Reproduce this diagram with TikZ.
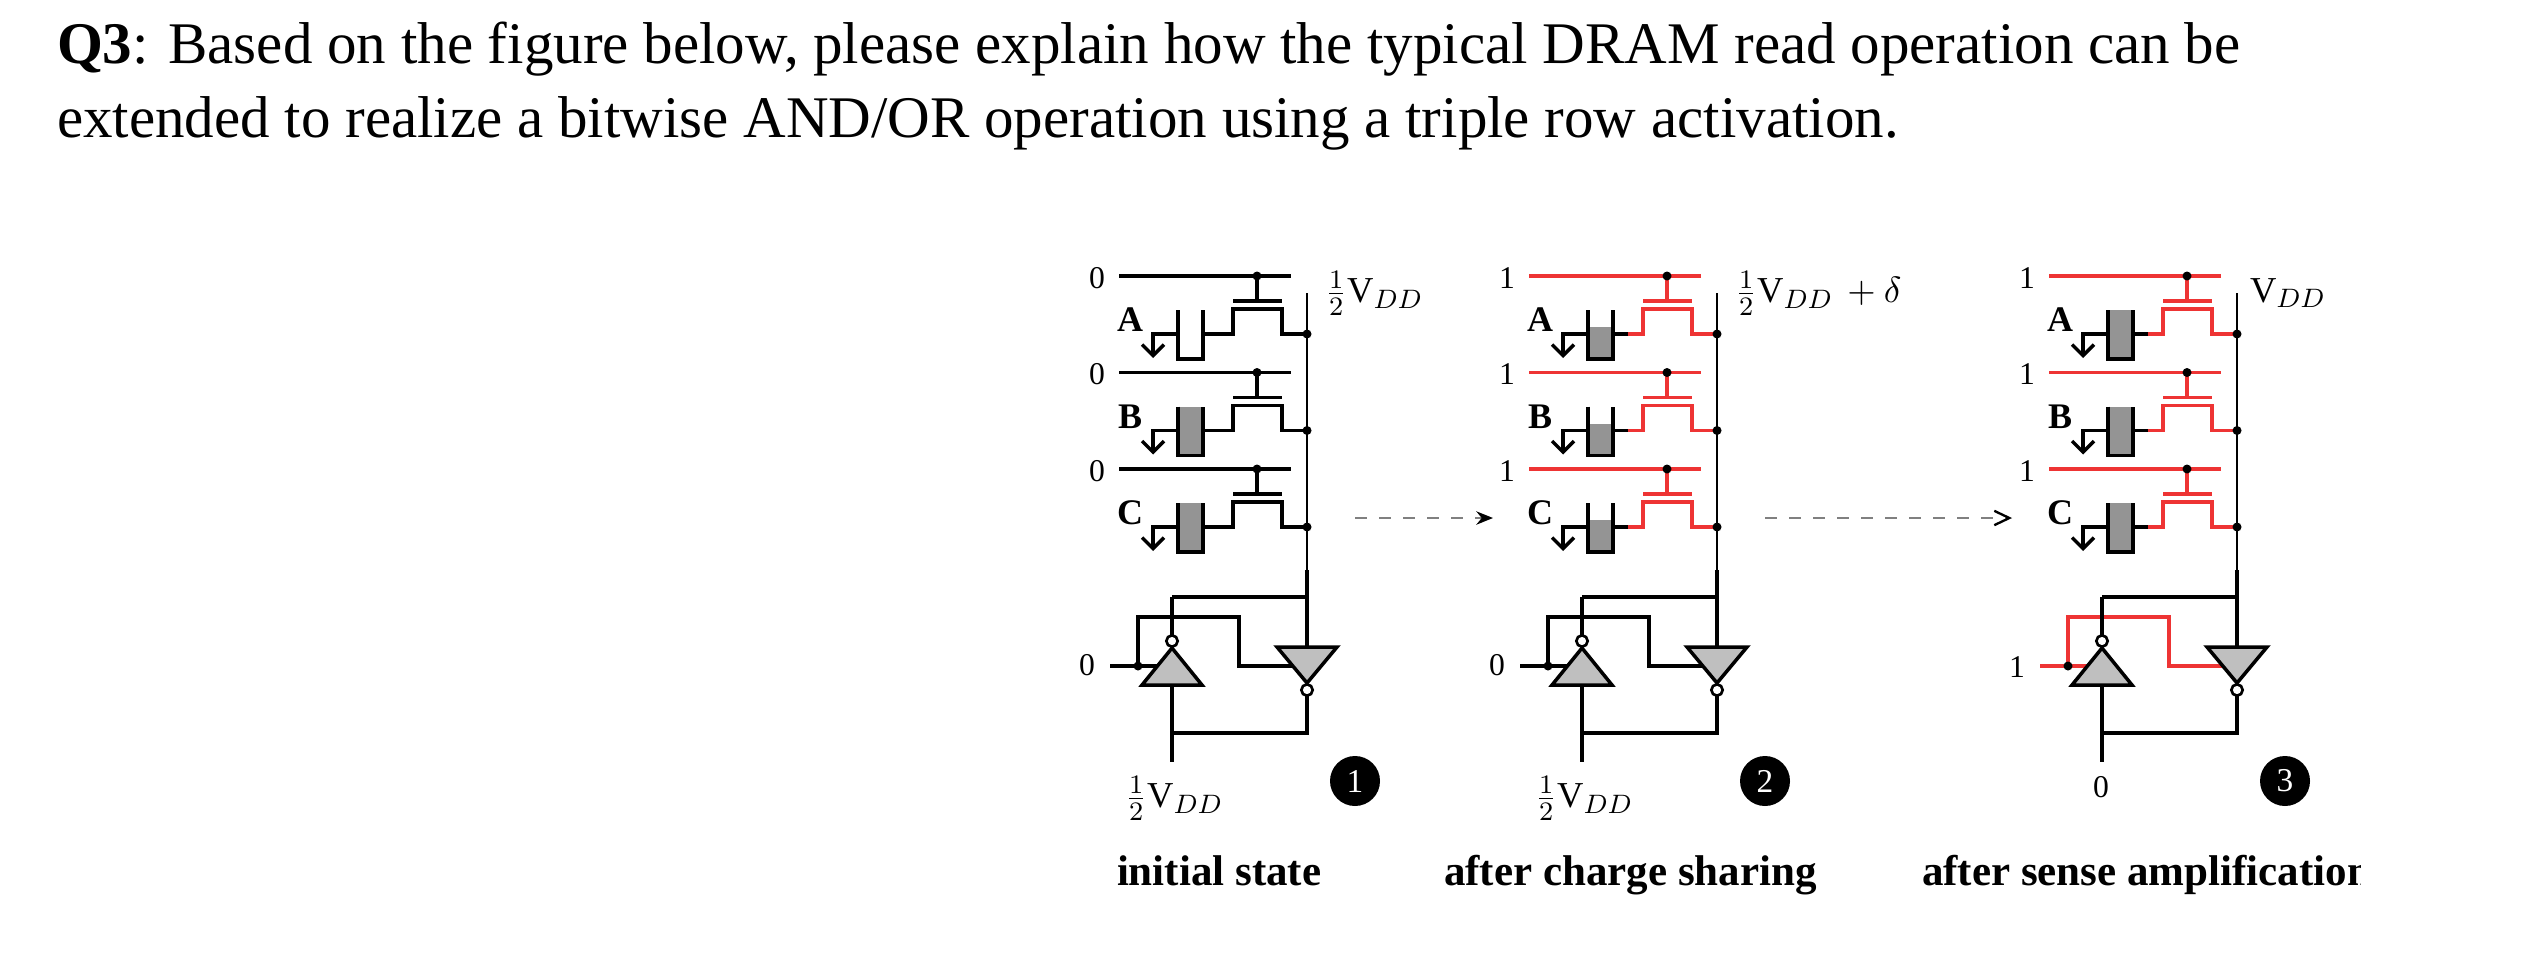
\documentclass[tikz,border=0pt]{standalone}
\usepackage{fontspec}
\setmainfont{Liberation Serif}
\usetikzlibrary{arrows.meta}
\definecolor{wirered}{RGB}{238,52,52}
\tikzset{
  wire/.style={line width=1.05pt,line cap=butt,line join=miter},
  thin wire/.style={line width=0.62pt},
  txt/.style={inner sep=0pt,outer sep=0pt},
  bit/.style={txt,font=\fontsize{9.5}{10}\selectfont},
  rowname/.style={txt,font=\fontsize{10.8}{12}\selectfont\bfseries},
  volt/.style={txt,anchor=west,font=\fontsize{10.95}{13}\selectfont},
  caption/.style={txt,anchor=base west,font=\fontsize{12.9}{15}\selectfont\bfseries},
  title/.style={txt,anchor=base west,font=\fontsize{17.7}{20}\selectfont},
  dot/.style={circle,fill=black,inner sep=0pt,minimum size=2.7pt},
  bubble/.style={circle,draw=black,fill=white,line width=0.8pt,inner sep=0pt,minimum size=3.4pt},
  badge/.style={circle,fill=black,text=white,inner sep=0pt,minimum size=15pt,font=\fontsize{10}{10}\selectfont},
  amp/.style={wire,fill=black!25,line join=miter},
  capfill/.style={fill=black!42,draw=none},
  flow/.style={line width=0.7pt,draw=black!50,dash pattern=on 3.6pt off 3.6pt},
}
% #1 prefix, #2 row offset, #3 fill top y (empty = none), #4 access colour, #5 row letter, #6 wordline bit
\newcommand{\dramcell}[6]{%
\begin{scope}[shift={(0,#2)}]
  \coordinate (#1wa) at (1119,276); \coordinate (#1wb) at (1291,276);
  \coordinate (#1g) at (1257,276); \coordinate (#1gt) at (1257,301);
  \coordinate (#1ga) at (1233,301); \coordinate (#1gb) at (1282,301);
  \coordinate (#1ca) at (1233,334); \coordinate (#1cb) at (1233,309);
  \coordinate (#1cc) at (1282,309); \coordinate (#1cd) at (1282,334);
  \coordinate (#1blc) at (1307,334);
  \node[bit] (#1v) at (1097,278) {#6};
  \node[rowname] (#1n) at (1130,320) {#5};
  \ifx&#3&\else\fill[capfill] (1178,#3) rectangle (1203,359);\fi
  \draw[wire] (1178,310) -- (1178,359) -- (1203,359) -- (1203,310);
  \draw[wire,-{Straight Barb[length=3.3pt,width=6.6pt]}] (1178,334) -- (1153,334) -- (1153,358);
  \draw[wire] (1203,334) -- (1219,334);
  \draw[wire,draw=#4] (#1wa) -- (#1wb);
  \draw[wire,draw=#4] (#1g) -- (#1gt);
  \draw[wire,draw=#4] (#1ga) -- (#1gb);
  \draw[wire,draw=#4] (1218,334) -- (#1ca) -- (#1cb) -- (#1cc) -- (#1cd) -- (#1blc);
  \node[dot] at (#1g) {};
  \node[dot] (#1bl) at (#1blc) {};
\end{scope}}
% #1 prefix, #2 latch colour
\newcommand{\senseamp}[2]{%
  \coordinate (#1in) at (1110,666); \coordinate (#1jc) at (1138,666);
  \coordinate (#1top) at (1172,597); \coordinate (#1tr) at (1307,597);
  \coordinate (#1lo) at (1172,733); \coordinate (#1lr) at (1307,733);
  \coordinate (#1end) at (1172,762);
  \draw[wire,draw=#2] (#1in) -- (1160,666);
  \draw[wire,draw=#2] (#1jc) -- (1138,617) -- (1239,617) -- (1239,666) -- (1295,666);
  \draw[wire] (#1top) -- (1172,636);
  \draw[wire] (#1top) -- (#1tr);
  \draw[wire] (1307,695) -- (#1lr) -- (#1lo);
  \draw[wire] (1172,685) -- (#1end);
  \draw[amp] (1172,648) -- (1202,685) -- (1142,685) -- cycle;
  \draw[amp] (1307,683) -- (1277,647) -- (1337,647) -- cycle;
  \node[bubble] (#1ba) at (1172,641) {};
  \node[bubble] (#1bb) at (1307,690) {};
  \node[dot] (#1j) at (#1jc) {};
}
\newcommand{\halfvdd}{$\frac{1}{2}$V$_{DD}$}
\begin{document}
\begin{tikzpicture}[x=0.3pt,y=-0.3pt]
\useasboundingbox (0,0) rectangle (2540,958);
\fill[white] (0,0) rectangle (2540,958);

\node[title] (t1) at (57,63) {\textbf{Q3}: Based on the figure below, please explain how the typical DRAM read operation can be};
\node[title] (t2) at (57,137) {extended to realize a bitwise AND/OR operation using a triple row activation.};

% panel 1
\begin{scope}
  \coordinate (atop) at (1307,293); \coordinate (amid) at (1307,570); \coordinate (aamp) at (1307,647);
  \draw[thin wire] (atop) -- (amid); \draw[wire] (amid) -- (aamp);
  \dramcell{aa}{0}{}{black}{A}{0}
  \dramcell{ab}{96.5}{310}{black}{B}{0}
  \dramcell{ac}{193}{310}{black}{C}{0}
  \senseamp{as}{black}
  \node[bit] (as0) at (1087,665) {0};
  \node[volt] (avdd) at (1325,293) {\halfvdd};
  \node[volt] (avb) at (1125,798) {\halfvdd};
  \node[badge] (ab1) at (1355,781) {1};
  \node[caption] (ac1) at (1117,885) {initial state};
\end{scope}

% panel 2
\begin{scope}[shift={(410,0)}]
  \coordinate (btop) at (1307,293); \coordinate (bmid) at (1307,570); \coordinate (bamp) at (1307,647);
  \draw[thin wire] (btop) -- (bmid); \draw[wire] (bmid) -- (bamp);
  \dramcell{ba}{0}{327}{wirered}{A}{1}
  \dramcell{bb}{96.5}{327}{wirered}{B}{1}
  \dramcell{bc}{193}{327}{wirered}{C}{1}
  \senseamp{bs}{black}
  \node[bit] (bs0) at (1087,665) {0};
  \node[volt] (bvdd) at (1325,293) {\halfvdd\,${}+\delta$};
  \node[volt] (bvb) at (1125,798) {\halfvdd};
  \node[badge] (bb1) at (1355,781) {2};
  \node[caption] (bc1) at (1034,885) {after charge sharing};
\end{scope}

% panel 3
\begin{scope}[shift={(930,0)}]
  \coordinate (ctop) at (1307,293); \coordinate (cmid) at (1307,570); \coordinate (camp) at (1307,647);
  \draw[thin wire] (ctop) -- (cmid); \draw[wire] (cmid) -- (camp);
  \dramcell{ca}{0}{310}{wirered}{A}{1}
  \dramcell{cb}{96.5}{310}{wirered}{B}{1}
  \dramcell{cc}{193}{310}{wirered}{C}{1}
  \senseamp{cs}{wirered}
  \node[bit] (cs0) at (1087,667) {1};
  \node[bit] (csb) at (1171,787) {0};
  \node[volt] (cvdd) at (1320,293) {V$_{DD}$};
  \node[badge] (cb1) at (1355,781) {3};
  \begin{scope}
    \clip (900,820) rectangle (1430,920);
    \node[caption] (cc1) at (992,885) {after sense amplification};
  \end{scope}
\end{scope}

% flow arrows
\coordinate (f1a) at (1355,518); \coordinate (f1b) at (1493,518);
\coordinate (f2a) at (1765,518); \coordinate (f2b) at (2012,518);
\draw[flow,-{Stealth[length=5pt,width=4pt,black]}] (f1a) -- (f1b);
\draw[flow,-{Straight Barb[length=4.5pt,width=4.3pt,black]}] (f2a) -- (f2b);
\end{tikzpicture}
\end{document}
